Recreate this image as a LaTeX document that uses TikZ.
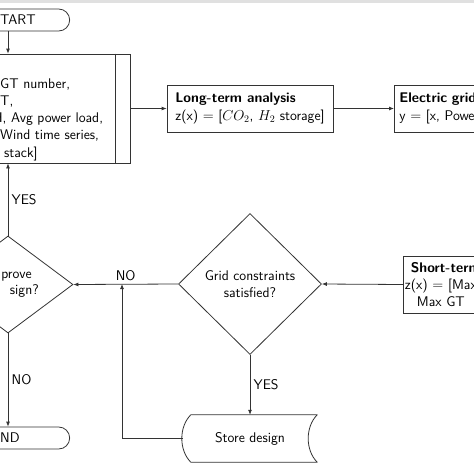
\documentclass[tikz,border=0pt]{standalone}
\usepackage{amsmath}
\usepackage{tikz}
\usetikzlibrary{shapes.geometric}
\usetikzlibrary{shapes.misc}
\usetikzlibrary{arrows.meta}

\tikzset{
  flowline/.style={draw=black!80, line width=0.8pt},
  arr/.style={flowline, -{Latex[length=5pt,width=4pt]}},
  box/.style={flowline, rectangle, inner sep=5pt, minimum height=47pt, align=left},
  term/.style={flowline, rounded rectangle, minimum height=22pt},
  decision/.style={flowline, diamond, inner sep=0pt, align=center},
  lbl/.style={inner sep=0pt}
}

\begin{document}
\begin{tikzpicture}[x=1pt,y=1pt,yscale=-1,xscale=1,font=\fontsize{14}{17.3}\selectfont\sffamily]
\useasboundingbox (0,0) rectangle (474,474);
\fill[white] (0,0) rectangle (474,474);
\clip (0,0) rectangle (474,474);
\fill[black!12] (0,0) rectangle (474,2.5);

% Start / input
\node[term, minimum width=206pt] (start) at (-30,20) {};
\node[lbl, anchor=west] (starttxt) at (0,20) {TART};
\node[flowline, rectangle, minimum width=230pt, minimum height=109pt] (input) at (15,108.5) {};
\draw[flowline] ([xshift=-15pt]input.north east) -- ([xshift=-15pt]input.south east);
\node[lbl, anchor=north west, align=left] (inputtxt) at (0,78) {GT number,\\T,\\\hspace*{2.5pt}\llap{H}, Avg power load,\\Wind time series,\\\hspace*{4pt}stack]};

% Analysis boxes
\node[box, minimum width=166pt] (longterm) at (250,108.5) {\textbf{Long-term analysis}\\z(x) $=$ [$CO_2$, $H_2$ storage]};
\node[box, anchor=west, text width=100pt] (elec) at (394,108.5) {\textbf{Electric grid}\\y $=$ [x, Power};
\node[box, anchor=west, text width=100pt, inner xsep=1.5pt, minimum height=57pt] (shortterm) at (403,284.5) {\hspace*{6pt}\textbf{Short-term}\\z(x) $=$ [Max\\\hspace*{12pt}Max GT};

% Decisions
\node[decision, minimum width=143pt, minimum height=141pt] (grid) at (250,284) {Grid constraints\\satisfied?};
\node[decision, minimum width=130pt, minimum height=97pt] (improve) at (8,284.5) {};
\node[lbl, anchor=mid east] (improvetxt1) at (32,276) {prove};
\node[lbl, anchor=mid east] (improvetxt2) at (39,292) {sign?};

% Store / end
\node[inner sep=0pt, minimum width=134pt, minimum height=47pt] (store) at (250,438.5) {Store design};
\draw[flowline, line join=round] ([xshift=8pt]store.north west) -- (store.north east)
  .. controls ([xshift=-12pt,yshift=12pt]store.north east) and ([xshift=-12pt,yshift=-12pt]store.south east) .. (store.south east)
  -- ([xshift=8pt]store.south west)
  .. controls ([xshift=-4pt,yshift=-12pt]store.south west) and ([xshift=-4pt,yshift=12pt]store.north west) .. ([xshift=8pt]store.north west) -- cycle;
\node[term, minimum width=206pt] (finish) at (-30,438) {};
\node[lbl, anchor=west] (finishtxt) at (0,438) {ND};
\coordinate (merge) at (122,284);

% Connectors
\draw[arr] (start.south -| improve.north) -- (input.north -| improve.north);
\draw[arr] (input.east) -- (longterm.west);
\draw[arr] (longterm.east) -- (elec.west);
\draw[arr] (shortterm.west) -- (grid.east);
\draw[arr] (grid.west) -- node[above] {NO} (improve.east);
\draw[arr] (improve.north) -- node[right] {YES} (input.south -| improve.north);
\draw[arr] (improve.south) -- node[right] {NO} (finish.north -| improve.south);
\draw[arr] (grid.south) -- node[right] {YES} (store.north);
\draw[arr] (store.west) -| (merge);

\end{tikzpicture}
\end{document}
